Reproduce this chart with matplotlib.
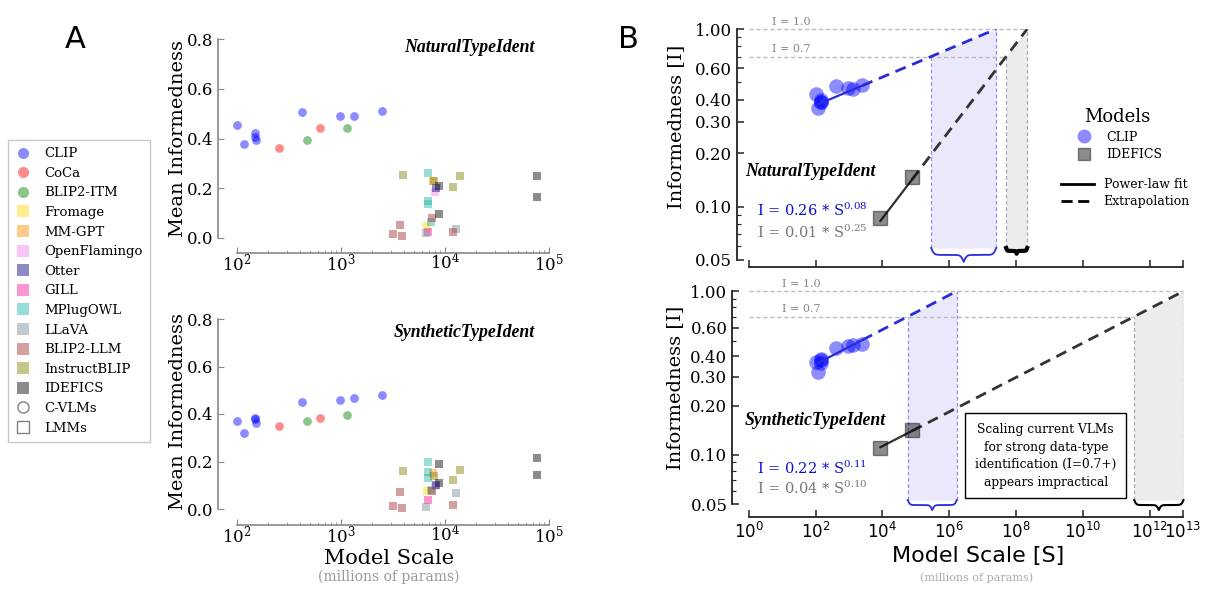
import numpy as np
import matplotlib
matplotlib.use('Agg')
import matplotlib.pyplot as plt
from matplotlib.lines import Line2D
from matplotlib.ticker import FixedLocator, NullFormatter
from matplotlib.transforms import blended_transform_factory

plt.rcParams['font.family'] = 'DejaVu Serif'
plt.rcParams['mathtext.fontset'] = 'dejavuserif'

# ---- panel A data (model scale in millions of params, mean informedness) ----
clip_x = [100, 118, 150, 150, 151, 422, 968, 1346, 2495]
clip_nat = [0.455, 0.379, 0.421, 0.408, 0.395, 0.506, 0.492, 0.490, 0.512]
clip_syn = [0.370, 0.319, 0.385, 0.380, 0.364, 0.449, 0.461, 0.468, 0.478]
coca_x = [251, 627]
coca_nat = [0.361, 0.441]
coca_syn = [0.349, 0.384]
itm_x = [468, 1154]
itm_nat = [0.393, 0.444]
itm_syn = [0.371, 0.396]
fromage_x = [6760]
fromage_nat = [0.048]
fromage_syn = [0.074]
mmgpt_x = [7700]
mmgpt_nat = [0.229]
mmgpt_syn = [0.153]
oflam_x = [8100]
oflam_nat = [0.186]
oflam_syn = [0.095]
otter_x = [8200]
otter_nat = [0.202]
otter_syn = [0.101]
gill_x = [6900]
gill_nat = [0.024]
gill_syn = [0.039]
mplug_x = [6900, 6900, 6900, 7300]
mplug_nat = [0.262, 0.150, 0.136, 0.064]
mplug_syn = [0.196, 0.157, 0.129, 0.080]
llava_x = [6500, 12850]
llava_nat = [0.019, 0.036]
llava_syn = [0.010, 0.066]
blip2llm_x = [3180, 3657, 3880, 7570, 12020]
blip2llm_nat = [0.016, 0.052, 0.008, 0.082, 0.023]
blip2llm_syn = [0.014, 0.072, 0.003, 0.074, 0.018]
instruct_x = [3936, 7900, 12020, 13930]
instruct_nat = [0.253, 0.229, 0.206, 0.250]
instruct_syn = [0.160, 0.140, 0.124, 0.163]
idefics_x = [8770, 8770, 76600, 76600]
idefics_nat = [0.210, 0.096, 0.249, 0.163]
idefics_syn = [0.189, 0.111, 0.213, 0.142]

# ---- panel B data ----
clipB_nat = [0.430, 0.357, 0.400, 0.389, 0.390, 0.477, 0.467, 0.461, 0.486]
clipB_syn = clip_syn
idefB_x = [8770, 76600]
idefB_nat = [0.086, 0.146]
idefB_syn = [0.111, 0.142]
# power-law fits I = a * S^b  (CLIP, IDEFICS)
fit_a_nat = [0.2576, 0.0089]
fit_b_nat = [0.0795, 0.246]
fit_a_syn = [0.2205, 0.043]
fit_b_syn = [0.1054, 0.105]
eq_nat = ['I = 0.26 * S$^{0.08}$', 'I = 0.01 * S$^{0.25}$']
eq_syn = ['I = 0.22 * S$^{0.11}$', 'I = 0.04 * S$^{0.10}$']

models = [
    ('CLIP', 'o', 'blue', clip_x, clip_nat, clip_syn),
    ('CoCa', 'o', 'red', coca_x, coca_nat, coca_syn),
    ('BLIP2-ITM', 'o', 'green', itm_x, itm_nat, itm_syn),
    ('Fromage', 's', 'gold', fromage_x, fromage_nat, fromage_syn),
    ('MM-GPT', 's', 'darkorange', mmgpt_x, mmgpt_nat, mmgpt_syn),
    ('OpenFlamingo', 's', 'violet', oflam_x, oflam_nat, oflam_syn),
    ('Otter', 's', 'navy', otter_x, otter_nat, otter_syn),
    ('GILL', 's', 'deeppink', gill_x, gill_nat, gill_syn),
    ('MPlugOWL', 's', 'lightseagreen', mplug_x, mplug_nat, mplug_syn),
    ('LLaVA', 's', 'lightslategray', llava_x, llava_nat, llava_syn),
    ('BLIP2-LLM', 's', 'brown', blip2llm_x, blip2llm_nat, blip2llm_syn),
    ('InstructBLIP', 's', 'olive', instruct_x, instruct_nat, instruct_syn),
    ('IDEFICS', 's', 'black', idefics_x, idefics_nat, idefics_syn),
]

W, H = 1217, 602
fig = plt.figure(figsize=(W / 100, H / 100), dpi=100)


def px_rect(x0, x1, ytop, ybot):
    return [x0 / W, 1 - ybot / H, (x1 - x0) / W, (ybot - ytop) / H]


def panel_a(rect, which, title, boff):
    ax = fig.add_axes(rect)
    for name, mk, col, xs, yn, ys in models:
        vals = yn if which == 'nat' else ys
        ax.scatter(xs, vals, s=40 if mk == 'o' else 36, marker=mk, color=col,
                   alpha=0.45, linewidths=0, clip_on=False, zorder=3)
    ax.set_xscale('log')
    ax.set_xlim(100, 1e5)
    ax.set_ylim(0, 0.8)
    ax.set_yticks([0, 0.2, 0.4, 0.6, 0.8])
    for s in ['top', 'right']:
        ax.spines[s].set_visible(False)
    ax.spines['left'].set_position(('outward', 19 * 0.72))
    ax.spines['bottom'].set_position(('outward', boff * 0.72))
    ax.spines['left'].set_bounds(0, 0.8)
    ax.spines['bottom'].set_bounds(100, 1e5)
    for s in ['left', 'bottom']:
        ax.spines[s].set_color('#888888')
        ax.spines[s].set_linewidth(1.2)
    ax.tick_params(which='both', direction='in', color='#888888', labelsize=12)
    ax.tick_params(axis='x', pad=-0.5)
    ax.tick_params(which='major', length=4)
    ax.tick_params(which='minor', length=2.5)
    ax.text(0.955, 0.955, title, transform=ax.transAxes, ha='right', va='center',
            fontsize=12.8, fontweight='bold', style='italic', family='Liberation Serif')
    return ax


axA1 = panel_a(px_rect(237, 549, 39, 238), 'nat', 'NaturalTypeIdent', 15)
axA2 = panel_a(px_rect(237, 549, 319, 509), 'syn', 'SyntheticTypeIdent', 16)
axA2.texts[0].set_position((0.955, 0.93))

fig.text(178 / W, 1 - 138 / H, 'Mean Informedness', rotation=90, ha='center', va='center', fontsize=14)
fig.text(178 / W, 1 - 411 / H, 'Mean Informedness', rotation=90, ha='center', va='center', fontsize=14)
fig.text(389 / W, 1 - 558 / H, 'Model Scale', ha='center', va='center', fontsize=15)
fig.text(389 / W, 1 - 577 / H, '(millions of params)', ha='center', va='center', fontsize=10, color='#999999')

# left legend
handles = []
for name, mk, col, xs, yn, ys in models:
    handles.append(Line2D([], [], ls='', marker=mk, markersize=8, color=col, alpha=0.45,
                          markeredgewidth=0, label=name))
handles.append(Line2D([], [], ls='', marker='o', markersize=8, markerfacecolor='none',
                      markeredgecolor='gray', label='C-VLMs'))
handles.append(Line2D([], [], ls='', marker='s', markersize=8, markerfacecolor='none',
                      markeredgecolor='gray', label='LMMs'))
leg = fig.legend(handles=handles, loc='upper left', bbox_to_anchor=(8 / W, 1 - 140 / H),
                 borderaxespad=0, fontsize=9.5, fancybox=False, edgecolor='#bbbbbb',
                 labelspacing=0.5, handletextpad=1.0, borderpad=0.55, handlelength=1.2)


def brace(ax, x0, x1, ytop, depth, color, lw):
    trans = blended_transform_factory(ax.transData, ax.transAxes)
    l0, l1 = np.log10(x0), np.log10(x1)
    u = np.linspace(0, 0.5, 200)
    k = 45
    g = 1 / (1 + np.exp(-k * u)) + 1 / (1 + np.exp(-k * (u - 0.5))) - 0.5
    uu = np.concatenate([u, 1 - u[::-1]])
    gg = np.concatenate([g, g[::-1]])
    ax.plot(10 ** (l0 + (l1 - l0) * uu), ytop - depth * gg, transform=trans,
            color=color, lw=lw, clip_on=False)


def panel_b(rect, loff, boff, clip_y, ide_y, fa, fb, title, eqs, fill_bot,
            brace_top, brace_depth, black_lw, black_depth, ylab_x, lab_x, show_x):
    ax = fig.add_axes(rect)
    ax.set_xscale('log')
    ax.set_yscale('log')
    ax.set_xlim(1, 1e13)
    ax.set_ylim(0.05, 1.0)
    cols = ['#2b2bdd', '#333333']
    fills = ['#e9e9fb', '#ececec']
    vcols = ['#8f8fee', '#aaaaaa']
    xs_list = [clip_x, idefB_x]
    x07s, x10s = [], []
    for i in range(2):
        a, b = fa[i], fb[i]
        x07 = (0.7 / a) ** (1 / b)
        x10 = (1.0 / a) ** (1 / b)
        x07s.append(x07)
        x10s.append(x10)
        xs = np.logspace(np.log10(min(xs_list[i])), np.log10(max(xs_list[i])), 50)
        ax.plot(xs, a * xs ** b, color=cols[i], lw=1.6, zorder=4)
        xe = np.logspace(np.log10(max(xs_list[i])), np.log10(x10), 100)
        ax.plot(xe, a * xe ** b, color=cols[i], lw=2, ls=(0, (4, 2.5)), zorder=4)
        xf = np.logspace(np.log10(x07), np.log10(x10), 100)
        ax.fill_between(xf, fill_bot, a * xf ** b, color=fills[i], lw=0, zorder=1)
        ax.plot([x07, x07], [fill_bot, 0.7], color=vcols[i], lw=0.9, ls=(0, (3, 2)), zorder=2)
        ax.plot([x10, x10], [fill_bot, 1.0], color=vcols[i], lw=0.9, ls=(0, (3, 2)), zorder=2)
    ax.scatter(clip_x, clip_y, s=110, marker='o', color='blue', alpha=0.45, linewidths=0, zorder=3)
    ax.scatter(idefB_x, ide_y, s=90, marker='s', color='black', alpha=0.45,
               edgecolors='black', linewidths=1, zorder=5)
    ax.plot([1, max(x10s)], [1.0, 1.0], color='#bbbbbb', lw=1, ls=(0, (3, 2)), zorder=1, clip_on=False)
    ax.plot([1, max(x07s)], [0.7, 0.7], color='#bbbbbb', lw=1, ls=(0, (3, 2)), zorder=1)
    ax.annotate('I = 1.0', (lab_x, 1.0), xytext=(0, 1.5), textcoords='offset points',
                va='bottom', fontsize=8, color='#888888', annotation_clip=False)
    ax.annotate('I = 0.7', (lab_x, 0.7), xytext=(0, 1.5), textcoords='offset points',
                va='bottom', fontsize=8, color='#888888')
    brace(ax, x07s[0], x10s[0], brace_top, brace_depth, '#2b2bdd', 1.3)
    brace(ax, x07s[1], x10s[1], brace_top, black_depth, 'black', black_lw)

    for s in ['top', 'right']:
        ax.spines[s].set_visible(False)
    ax.spines['left'].set_position(('outward', loff * 0.72))
    ax.spines['bottom'].set_position(('outward', boff * 0.72))
    ax.spines['left'].set_bounds(0.05, 1.0)
    ax.spines['bottom'].set_bounds(1, 1e13)
    for s in ['left', 'bottom']:
        ax.spines[s].set_color('#222222')
        ax.spines[s].set_linewidth(1.3)
    ax.yaxis.set_major_locator(FixedLocator([0.05, 0.1, 0.2, 0.3, 0.4, 0.6, 1.0]))
    ax.yaxis.set_minor_locator(FixedLocator([0.06, 0.07, 0.08, 0.09, 0.5, 0.7, 0.8, 0.9]))
    ax.yaxis.set_minor_formatter(NullFormatter())
    ax.set_yticklabels(['0.05', '0.10', '0.20', '0.30', '0.40', '0.60', '1.00'])
    ax.xaxis.set_major_locator(FixedLocator([10.0 ** e for e in [0, 2, 4, 6, 8, 10, 12, 13]]))
    ax.xaxis.set_minor_locator(FixedLocator([]))
    if show_x:
        ax.set_xticklabels(['$10^{%d}$' % e for e in [0, 2, 4, 6, 8, 10, 12, 13]])
        for lbl in ax.get_xticklabels():
            lbl.set_math_fontfamily('dejavusans')
            lbl.set_fontsize(12)
    else:
        ax.set_xticklabels([])
    ax.tick_params(which='both', direction='in', color='#222222')
    ax.tick_params(axis='y', labelsize=12)
    ax.tick_params(which='major', length=5, width=1.1)
    ax.tick_params(which='minor', length=3, width=0.8)

    ax.text(-0.009, title[1], title[0], transform=ax.transAxes, ha='left', va='center',
            fontsize=12.8, fontweight='bold', style='italic', family='Liberation Serif')
    ax.text(0.019, eqs[2], eqs[0], transform=ax.transAxes, ha='left', va='center',
            fontsize=10.5, color='#1010cc')
    ax.text(0.019, eqs[3], eqs[1], transform=ax.transAxes, ha='left', va='center',
            fontsize=10.5, color='#777777')
    fig.text(ylab_x[0] / W, 1 - ylab_x[1] / H, 'Informedness [I]', rotation=90,
             ha='center', va='center', fontsize=14)
    return ax


axB1 = panel_b(px_rect(748.7, 1183, 29, 260), 11.5, 7, clipB_nat, idefB_nat,
               fit_a_nat, fit_b_nat, ('NaturalTypeIdent', 0.381),
               eq_nat + [0.216, 0.121], 0.0584, 0.052, 0.06, 3, 0.025,
               (676, 127), 10 ** 0.7, False)
axB2 = panel_b(px_rect(748.7, 1183, 291.2, 504.3), 16.4, 13, clipB_syn, idefB_syn,
               fit_a_syn, fit_b_syn, ('SyntheticTypeIdent', 0.391),
               eq_syn + [0.17, 0.077], 0.0531, 0.02, 0.047, 1.5, 0.047,
               (675, 388), 10.0, True)

axB2.text(0.684, 0.227, 'Scaling current VLMs\nfor strong data-type\nidentification (I=0.7+)\nappears impractical',
          transform=axB2.transAxes, ha='center', va='center', fontsize=8.8, linespacing=1.45,
          bbox=dict(boxstyle='square,pad=0.8', facecolor='white', edgecolor='black', lw=1))

fig.text(978 / W, 1 - 556 / H, 'Model Scale [S]', ha='center', va='center', fontsize=16, family='DejaVu Sans')
fig.text(977 / W, 1 - 578 / H, '(millions of params)', ha='center', va='center', fontsize=8, color='#aaaaaa')

# legends for panel B
mh = [Line2D([], [], ls='', marker='o', markersize=10, color='blue', alpha=0.45, markeredgewidth=0, label='CLIP'),
      Line2D([], [], ls='', marker='s', markersize=9, color='black', alpha=0.45, label='IDEFICS')]
lg1 = fig.legend(handles=mh, title='Models', loc='upper center', bbox_to_anchor=(1117 / W, 1 - 97 / H),
                 frameon=False, fontsize=9, title_fontsize=13, handletextpad=0.8, labelspacing=0.35)
lh = [Line2D([], [], color='black', lw=2, label='Power-law fit'),
      Line2D([], [], color='black', lw=2, ls=(0, (4, 2)), label='Extrapolation')]
lg2 = fig.legend(handles=lh, loc='upper left', bbox_to_anchor=(1050 / W, 1 - 167 / H),
                 frameon=False, fontsize=9, handlelength=2.6, labelspacing=0.3)

fig.text(75 / W, 1 - 40 / H, 'A', ha='center', va='center', fontsize=22, family='DejaVu Sans')
fig.text(628 / W, 1 - 40 / H, 'B', ha='center', va='center', fontsize=22, family='DejaVu Sans')

fig.savefig('out.png', dpi=100)
